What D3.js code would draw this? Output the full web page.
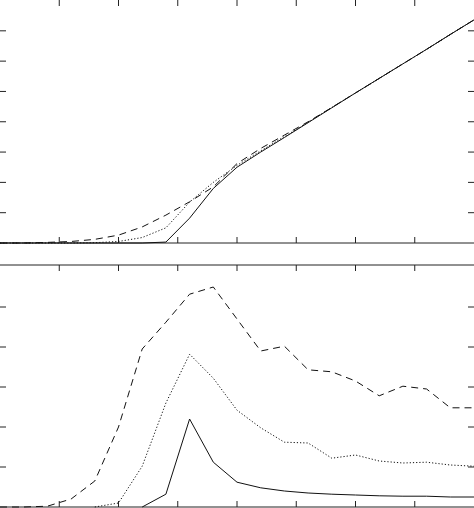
<!DOCTYPE html>
<html><head><meta charset="utf-8">
<script src="https://cdn.jsdelivr.net/npm/d3@7"></script>
<style>body{margin:0;background:#fff}svg{display:block}</style>
</head><body><div id="chart"></div>
<script>
const idx = d3.range(21);
// top panel (cumulative)
const topSolid  = [0,0,0,0,0,0,0,0.03,0.82,1.8,2.5,3.0,3.48,3.97,4.46,4.95,5.43,5.91,6.39,6.88,7.36];
const topDotted = [0,0,0,0,0.01,0.05,0.18,0.5,1.35,2.0,2.56,3.04,3.51,3.98,4.47,4.95,5.43,5.91,6.39,6.88,7.36];
const topDashed = [0,0,0.02,0.05,0.12,0.26,0.53,0.92,1.36,1.85,2.62,3.12,3.56,4.0,4.47,4.95,5.43,5.91,6.39,6.88,7.36];
// bottom panel
const botSolid  = [null,null,null,null,null,null,0,0.32,2.2,1.12,0.62,0.48,0.4,0.35,0.32,0.3,0.28,0.27,0.27,0.25,0.25];
const botDotted = [null,null,null,null,0,0.1,1.02,2.6,3.82,3.22,2.42,1.98,1.62,1.6,1.22,1.3,1.15,1.1,1.12,1.05,1.02];
const botDashed = [0,0,0.02,0.2,0.65,2.0,3.95,4.62,5.32,5.5,4.7,3.9,4.02,3.43,3.38,3.15,2.78,3.02,2.95,2.48,2.48];
const xTicks = [2.5,5,7.5,10,12.5,15,17.5];
const topYTicks = [1,2,3,4,5,6,7];
const botYTicks = [1,2,3,4,5];

const W = 474, H = 508, tl = 6;
const svg = d3.select("#chart").append("svg").attr("width", W).attr("height", H);
const x = d3.scaleLinear().domain([0,20]).range([0,W]);
const yTop = d3.scaleLinear().domain([0,8]).range([243,0.5]);
const yBot = d3.scaleLinear().domain([0,6]).range([507,267]);
const styles = {solid:null, dotted:"1.2,2", dashed:"7,5"};

function panel(y, top, bottom, yTicks, series, topLine) {
  const g = svg.append("g").attr("stroke","#222").attr("fill","none").attr("stroke-width",1);
  if (topLine) g.append("line").attr("x1",0).attr("x2",W).attr("y1",top).attr("y2",top);
  g.append("line").attr("x1",0).attr("x2",W).attr("y1",bottom).attr("y2",bottom);
  xTicks.forEach(t => {
    g.append("line").attr("x1",x(t)).attr("x2",x(t)).attr("y1",top).attr("y2",top+tl);
    g.append("line").attr("x1",x(t)).attr("x2",x(t)).attr("y1",bottom).attr("y2",bottom-tl);
  });
  yTicks.forEach(t => {
    g.append("line").attr("x1",0).attr("x2",tl).attr("y1",y(t)).attr("y2",y(t));
    g.append("line").attr("x1",W-tl).attr("x2",W).attr("y1",y(t)).attr("y2",y(t));
  });
  series.forEach(([data, st]) => {
    const line = d3.line().defined(d => data[d] != null).x(d => x(d)).y(d => y(data[d]));
    g.append("path").attr("d", line(idx)).attr("stroke","#111").attr("stroke-dasharray", styles[st]);
  });
}
panel(yTop, 0, 243, topYTicks, [[topDashed,"dashed"],[topDotted,"dotted"],[topSolid,"solid"]], false);
panel(yBot, 265, 507, botYTicks, [[botDashed,"dashed"],[botDotted,"dotted"],[botSolid,"solid"]], true);
</script></body></html>
